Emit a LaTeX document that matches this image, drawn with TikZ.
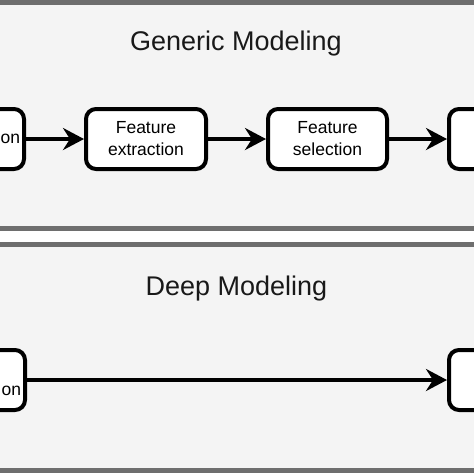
\documentclass[tikz,border=0pt]{standalone}
\usepackage{fontspec}
\setmainfont{Liberation Sans}
\usetikzlibrary{arrows.meta}
\definecolor{panelfill}{HTML}{F4F4F4}
\definecolor{panelline}{HTML}{6E6E6E}
\begin{document}
\begin{tikzpicture}[x=1pt,y=-1pt,
  panel/.style={draw=panelline, fill=panelfill, line width=5pt, minimum width=540pt, minimum height=226pt, inner sep=0pt, outer sep=0pt},
  title/.style={font=\fontsize{27}{32}\selectfont, text=black!90, anchor=base, inner sep=0pt},
  box/.style={draw=black, fill=white, line width=4pt, rounded corners=10pt, minimum width=120pt, minimum height=60pt, font=\fontsize{17.5}{22}\selectfont, align=center, inner sep=0pt},
  arr/.style={line width=4pt, -{Stealth[length=21pt, width=22pt, inset=7pt]}}]
\useasboundingbox (0,0) rectangle (474,474);
\begin{scope}
\clip (0,0) rectangle (474,474);
\node[panel] (gp) at (237,115.5) {};
\node[panel] (dp) at (237,357.5) {};
\node[title] (gt) at (236,50) {Generic Modeling};
\node[title] (dt) at (236.5,295) {Deep Modeling};
% generic row
\node[box, align=right, text width=112pt] (g1) at (-36,139) {on};
\node[box] (g2) at (146,139) {Feature\\extraction};
\node[box, minimum width=119pt] (g3) at (327.5,139) {Feature\\selection};
\node[box] (g4) at (509,139) {};
\draw[arr] (g1.east) -- (g2.west);
\draw[arr] (g2.east) -- (g3.west);
\draw[arr] (g3.east) -- (g4.west);
% deep row
\node[box, align=right, text width=112pt] (d1) at (-35,380) {\phantom{on}\\on};
\node[box] (d4) at (509,380) {};
\draw[arr] (d1.east) -- (d4.west);
\end{scope}
\end{tikzpicture}
\end{document}
